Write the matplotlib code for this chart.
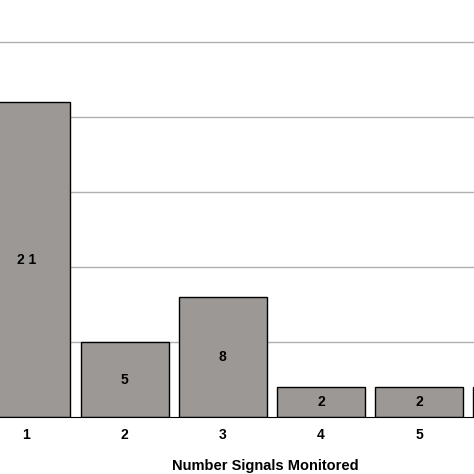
import matplotlib
matplotlib.use("Agg")
import matplotlib.pyplot as plt

signals = [1, 2, 3, 4, 5, 6]
counts = [21, 5, 8, 2, 2, 2]
labels = ["2 1", "5", "8", "2", "2", "2"]

plt.rcParams['font.family'] = ['Liberation Sans', 'DejaVu Sans']
fig = plt.figure(figsize=(4.74, 4.74), dpi=100)
ax = fig.add_axes([0, 0.12, 1, 0.88])
ax.set_axisbelow(True)
ax.yaxis.grid(True, color='#b0b0b0', linewidth=1)
bars = ax.bar(signals, counts, width=0.894, color='#9c9896', edgecolor='black', linewidth=1)
for b, lab in zip(bars, labels):
    ax.text(b.get_x() + b.get_width() / 2, b.get_height() / 2, lab,
            ha='center', va='center', fontsize=10, fontweight='bold', clip_on=True)
ax.set_xlim(0.73, 5.56)
ax.set_ylim(0, 27.8)
ax.set_yticks([5, 10, 15, 20, 25])
ax.set_yticklabels([])
ax.set_xticks(signals[:5])
ax.tick_params(length=0, labelsize=10, pad=8)
for t in ax.get_xticklabels():
    t.set_fontweight('bold')
for s in ['top', 'right', 'left']:
    ax.spines[s].set_visible(False)
ax.spines['bottom'].set_color('black')
ax.set_xlabel('Number Signals Monitored', fontsize=10.5, fontweight='bold', labelpad=10)
ax.xaxis.set_label_coords(0.56, -0.1)
fig.savefig('out.png', dpi=100)
